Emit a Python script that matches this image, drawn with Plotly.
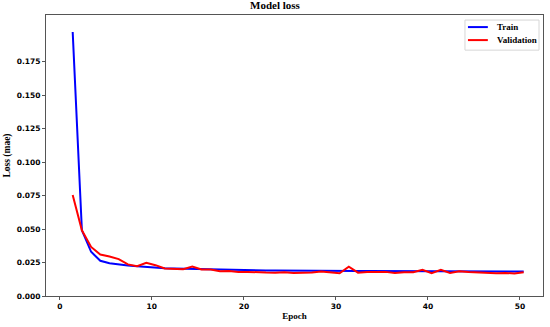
import plotly.graph_objects as go

epochs = [1.4 + i for i in range(50)]

train_loss = [0.197, 0.049, 0.033, 0.0263, 0.0245, 0.0235, 0.0228, 0.0222, 0.0216, 0.0212,
              0.0208, 0.0205, 0.0203, 0.0201, 0.0200, 0.0198, 0.0197, 0.0195, 0.0194, 0.0192,
              0.0191, 0.0190, 0.0190, 0.0189, 0.0189, 0.0188, 0.0188, 0.0188, 0.0187, 0.0187,
              0.0187, 0.0186, 0.0186, 0.0186, 0.0186, 0.0186, 0.0185, 0.0185, 0.0185, 0.0185,
              0.0185, 0.0184, 0.0184, 0.0184, 0.0184, 0.0184, 0.0183, 0.0183, 0.0183, 0.0182]

val_loss = [0.0754, 0.049, 0.0366, 0.031, 0.0295, 0.0275, 0.0236, 0.0222, 0.0248, 0.023,
            0.0205, 0.0205, 0.0200, 0.0220, 0.0198, 0.0198, 0.0185, 0.0187, 0.0180, 0.0180,
            0.0180, 0.0175, 0.0174, 0.0178, 0.0172, 0.0172, 0.0176, 0.0183, 0.0174, 0.0170,
            0.0219, 0.0174, 0.0180, 0.0178, 0.0180, 0.0172, 0.0178, 0.0178, 0.0195, 0.0170,
            0.0195, 0.0172, 0.0185, 0.0180, 0.0175, 0.0170, 0.0170, 0.0172, 0.0168, 0.0178]

series_names = ["Train", "Validation"]
series_colors = ["#0000ff", "#ff0000"]

x_ticks = [0, 10, 20, 30, 40, 50]
y_ticks = [0.0, 0.025, 0.05, 0.075, 0.1, 0.125, 0.15, 0.175]
y_tick_text = ["0.000", "0.025", "0.050", "0.075", "0.100", "0.125", "0.150", "0.175"]

fig = go.Figure()
for name, vals, col in zip(series_names, [train_loss, val_loss], series_colors):
    fig.add_trace(go.Scatter(x=epochs, y=vals, mode="lines", name=name,
                             line=dict(color=col, width=2), showlegend=False))

serif = "Liberation Serif"
sans = "DejaVu Sans"

# manual legend box (paper coordinates of the plot area)
fig.add_shape(type="rect", xref="paper", yref="paper", x0=0.843, x1=0.992, y0=0.875, y1=0.982,
              line=dict(color="#d6d6d6", width=1), fillcolor="rgba(255,255,255,0.8)", layer="above")
for i, (name, col) in enumerate(zip(series_names, series_colors)):
    yy = 0.957 - i * 0.0463
    fig.add_shape(type="line", xref="paper", yref="paper", x0=0.849, x1=0.889, y0=yy, y1=yy,
                  line=dict(color=col, width=2), layer="above")
    fig.add_annotation(xref="paper", yref="paper", x=0.903, y=yy, xanchor="left", yanchor="middle",
                       text=f"<b>{name}</b>", showarrow=False,
                       font=dict(family=serif, size=9, color="black"))

fig.update_layout(
    width=550, height=327,
    margin=dict(l=46, r=7, t=15, b=31),
    plot_bgcolor="white", paper_bgcolor="white",
    title=dict(text="<b>Model loss</b>", x=0.5, xanchor="center", y=0.995, yanchor="top",
               font=dict(family=serif, size=11, color="black")),
    showlegend=False,
    xaxis=dict(range=[-1.5, 52.5], tickvals=x_ticks, ticktext=[f"<b>{t}</b>" for t in x_ticks],
               showgrid=False, zeroline=False, showline=True, linecolor="#555555", linewidth=1,
               mirror=True, ticks="outside", ticklen=3, tickcolor="#555555", automargin=False,
               tickfont=dict(family=sans, size=7.5, color="black"),
               title=dict(text="<b>Epoch</b>", font=dict(family=serif, size=9, color="black"), standoff=2)),
    yaxis=dict(range=[0, 0.2097], tickvals=y_ticks, ticktext=[f"<b>{t}</b>" for t in y_tick_text],
               showgrid=False, zeroline=False, showline=True, linecolor="#555555", linewidth=1,
               mirror=True, ticks="outside", ticklen=3, tickcolor="#555555", automargin=False,
               tickfont=dict(family=sans, size=7.5, color="black"),
               title=dict(text="<b>Loss (mae)</b>", font=dict(family=serif, size=9.5, color="black"), standoff=4)),
)

fig.write_html("out.html", config={"displayModeBar": False},
               post_script="document.body.style.margin='0';")
